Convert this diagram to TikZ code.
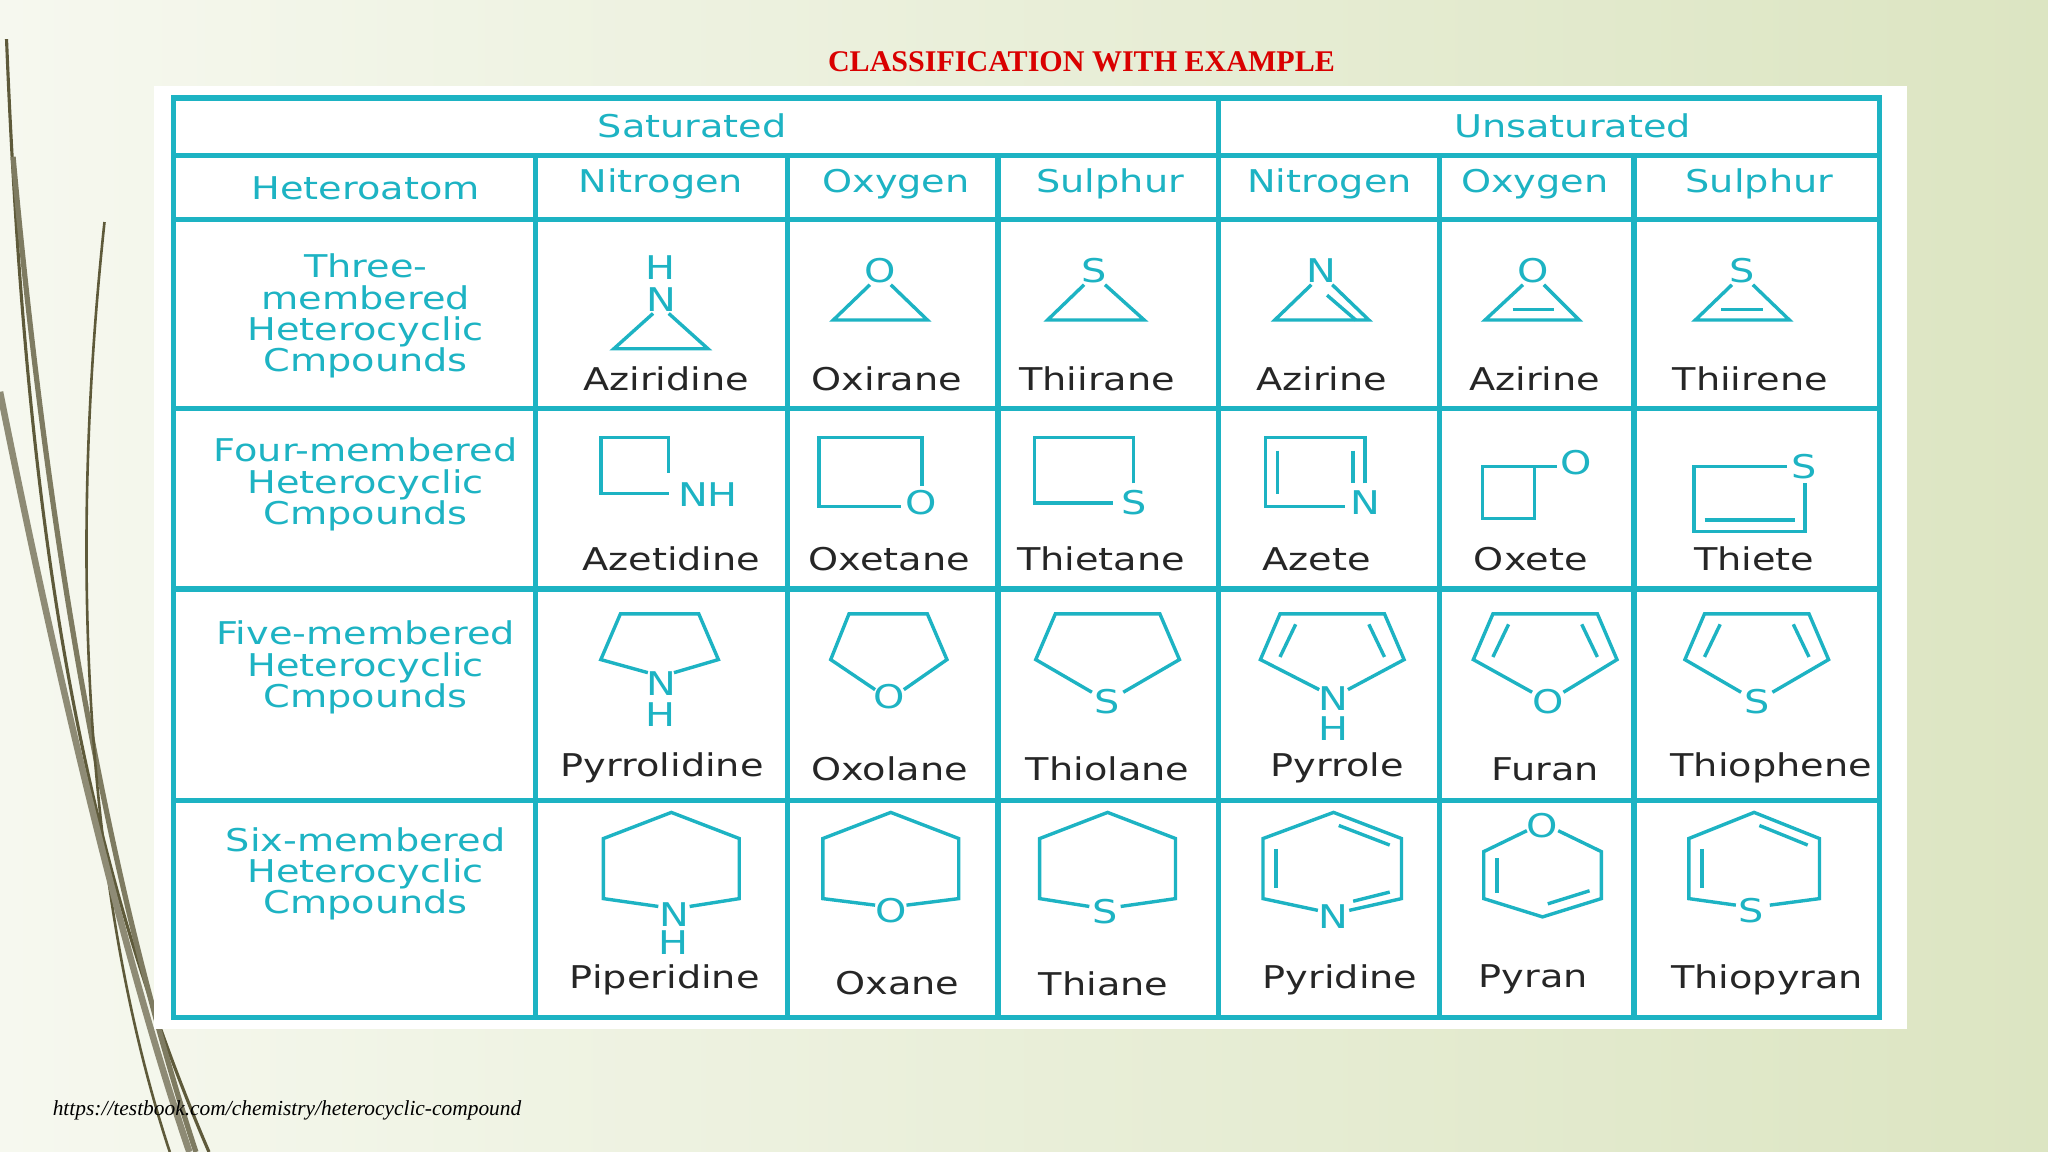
\documentclass[tikz,border=0pt]{standalone}
\usepackage{fontspec}
\setmainfont{DejaVu Sans}
\newfontfamily\wide[FakeStretch=1.22]{DejaVu Sans}
\newfontfamily\serifT{Liberation Serif}
\begin{document}
\begin{tikzpicture}[x=0.5pt,y=-0.5pt]
\definecolor{teal}{HTML}{1DB3C3}
\definecolor{olive}{HTML}{5E5A3A}
\definecolor{bgl}{HTML}{F6F8EF}
\definecolor{bgr}{HTML}{DCE5C2}
\tikzset{bond/.style={teal,line width=1.3pt},
 atom/.style={text=teal,font=\wide\fontsize{12.5}{12.5}\selectfont,inner sep=0pt},
 cname/.style={text=black!85,font=\wide\fontsize{12}{12}\selectfont,inner sep=0pt},
 hdr/.style={text=teal,font=\wide\fontsize{12}{12}\selectfont,inner sep=0pt},
 rowlab/.style={text=teal,font=\wide\fontsize{12}{12}\selectfont,align=center,inner sep=0pt,anchor=north}}
\useasboundingbox (0,0) rectangle (1568,882);
\shade[left color=bgl,right color=bgr] (0,0) rectangle (1568,882);
% decorative stripes
\draw[olive,line width=1.2pt] (5,30) .. controls (20,400) and (60,650) .. (160,882);
\draw[olive!80,line width=2pt] (10,120) .. controls (40,450) and (90,700) .. (150,882);
\draw[olive,line width=1pt] (80,170) .. controls (50,450) and (70,700) .. (130,882);
\draw[olive!70,line width=2.5pt] (0,300) .. controls (50,550) and (100,750) .. (145,882);
\fill[white] (118,66) rectangle (1460,788);
% title
\node[text=red!85!black,font=\serifT\bfseries\fontsize{11.5}{11.5}\selectfont] (title) at (828,47) {CLASSIFICATION WITH EXAMPLE};
\node[anchor=west,inner sep=0pt,font=\serifT\itshape\fontsize{8.2}{8.2}\selectfont] (url) at (40,850) {https://testbook.com/chemistry/heterocyclic-compound};
% grid
\draw[teal,line width=2pt] (133,75) rectangle (1439,779);
\foreach \y in {119,168,313,451,613} \draw[teal,line width=2pt] (133,\y) -- (1439,\y);
\draw[teal,line width=2pt] (933,75) -- (933,779);
\foreach \x in {410,603,764,1102,1251} \draw[teal,line width=2pt] (\x,119) -- (\x,779);
% headers
\node[hdr] (sat) at (530,96) {Saturated};
\node[hdr] (unsat) at (1204,96) {Unsaturated};
\node[hdr] (het) at (280,144) {Heteroatom};
\foreach \x/\t [count=\i] in {506/Nitrogen,686/Oxygen,850/Sulphur,1018/Nitrogen,1175/Oxygen,1347/Sulphur}
  \node[hdr] (h\i) at (\x,141) {\t};
\node[rowlab] (r1) at (280,194) {Three-\\membered\\Heterocyclic\\Cmpounds};
\node[rowlab] (r2) at (280,335) {Four-membered\\Heterocyclic\\Cmpounds};
\node[rowlab] (r3) at (280,475) {Five-membered\\Heterocyclic\\Cmpounds};
\node[rowlab] (r4) at (280,633) {Six-membered\\Heterocyclic\\Cmpounds};
% names
\foreach \x/\y/\t [count=\i] in {510/290/Aziridine,679/290/Oxirane,840/290/Thiirane,1012/290/Azirine,1175/290/Azirine,1340/290/Thiirene,
 514/428/Azetidine,681/428/Oxetane,843/428/Thietane,1008/428/Azete,1172/428/Oxete,1343/428/Thiete,
 507/588/Pyrrolidine,681/589/Oxolane,848/589/Thiolane,1024/588/Pyrrole,1183/589/Furan,1356/588/Thiophene,
 509/750/Piperidine,687/753/Oxane,845/753/Thiane,1026/750/Pyridine,1174/750/Pyran,1353/750/Thiopyran}
  \node[cname] (n\i) at (\x,\y) {\t};
% ---- three-membered
\node[atom] (a1h) at (506,205) {H}; \node[atom] (a1n) at (506,229) {N};
\draw[bond] (500,240) -- (470,267) -- (542,267) -- (512,240);
\node[atom] (a2) at (674,207) {O};
\draw[bond] (666,218) -- (638,245) -- (710,245) -- (682,218);
\node[atom] (a3) at (838,207) {S};
\draw[bond] (830,218) -- (802,245) -- (876,245) -- (846,218);
\node[atom] (a4) at (1012,207) {N};
\draw[bond] (1004,218) -- (976,245) -- (1048,245) -- (1020,218);
\draw[bond] (1016,226) -- (1038,245);
\node[atom] (a5) at (1174,207) {O};
\draw[bond] (1166,218) -- (1137,245) -- (1209,245) -- (1182,218);
\draw[bond] (1158,237) -- (1190,237);
\node[atom] (a6) at (1334,207) {S};
\draw[bond] (1326,218) -- (1298,245) -- (1370,245) -- (1342,218);
\draw[bond] (1318,237) -- (1350,237);
% ---- four-membered
\draw[bond] (512,362) -- (512,335) -- (460,335) -- (460,378) -- (512,378);
\node[atom] (b1) at (542,379) {NH};
\draw[bond] (706,372) -- (706,335) -- (627,335) -- (627,388) -- (690,388);
\node[atom] (b2) at (705,385) {O};
\draw[bond] (868,370) -- (868,335) -- (792,335) -- (792,385) -- (852,385);
\node[atom] (b3) at (868,385) {S};
\draw[bond] (1045,370) -- (1045,335) -- (969,335) -- (969,388) -- (1030,388);
\draw[bond] (978,345) -- (978,378); \draw[bond] (1036,345) -- (1036,370);
\node[atom] (b4) at (1045,385) {N};
\draw[bond] (1192,357) -- (1135,357) -- (1135,397) -- (1175,397) -- (1175,357);
\node[atom] (b5) at (1207,354) {O};
\draw[bond] (1368,357) -- (1297,357) -- (1297,407) -- (1382,407) -- (1382,370);
\draw[bond] (1305,398) -- (1374,398);
\node[atom] (b6) at (1381,357) {S};
% ---- five-membered
\draw[bond] (496,515) -- (460,505) -- (475,470) -- (535,470) -- (550,505) -- (516,515);
\node[atom] (c1n) at (506,523) {N}; \node[atom] (c1h) at (506,547) {H};
\draw[bond] (670,528) -- (636,505) -- (650,470) -- (710,470) -- (725,505) -- (692,528);
\node[atom] (c2) at (681,533) {O};
\draw[bond] (836,530) -- (793,505) -- (808,470) -- (888,470) -- (903,505) -- (860,530);
\node[atom] (c3) at (848,537) {S};
\draw[bond] (1010,528) -- (965,505) -- (980,470) -- (1060,470) -- (1075,505) -- (1032,528);
\draw[bond] (992,478) -- (980,503); \draw[bond] (1048,478) -- (1060,503);
\node[atom] (c4n) at (1021,535) {N}; \node[atom] (c4h) at (1021,558) {H};
\draw[bond] (1173,530) -- (1128,505) -- (1143,470) -- (1223,470) -- (1238,505) -- (1197,530);
\draw[bond] (1155,478) -- (1143,503); \draw[bond] (1211,478) -- (1223,503);
\node[atom] (c5) at (1185,537) {O};
\draw[bond] (1333,530) -- (1290,505) -- (1305,470) -- (1385,470) -- (1400,505) -- (1357,530);
\draw[bond] (1317,478) -- (1305,503); \draw[bond] (1373,478) -- (1385,503);
\node[atom] (c6) at (1345,537) {S};
% ---- six-membered
\draw[bond] (504,694) -- (462,688) -- (462,642) -- (514,622) -- (566,642) -- (566,688) -- (528,694);
\node[atom] (d1n) at (516,700) {N}; \node[atom] (d1h) at (516,722) {H};
\draw[bond] (670,693) -- (630,688) -- (630,642) -- (682,622) -- (734,642) -- (734,688) -- (694,693);
\node[atom] (d2) at (682,697) {O};
\draw[bond] (834,694) -- (796,688) -- (796,642) -- (848,622) -- (900,642) -- (900,688) -- (858,694);
\node[atom] (d3) at (846,698) {S};
\draw[bond] (1009,697) -- (967,688) -- (967,642) -- (1021,622) -- (1073,642) -- (1073,688) -- (1033,697);
\draw[bond] (977,650) -- (977,680); \draw[bond] (1025,632) -- (1064,647); \draw[bond] (1064,683) -- (1036,690);
\node[atom] (d4) at (1021,702) {N};
\draw[bond] (1169,636) -- (1136,652) -- (1136,688) -- (1181,702) -- (1226,688) -- (1226,652) -- (1193,636);
\draw[bond] (1146,657) -- (1146,684); \draw[bond] (1185,692) -- (1217,682);
\node[atom] (d5) at (1181,632) {O};
\draw[bond] (1329,693) -- (1293,688) -- (1293,642) -- (1343,622) -- (1393,642) -- (1393,688) -- (1355,693);
\draw[bond] (1303,650) -- (1303,680); \draw[bond] (1347,632) -- (1384,647);
\node[atom] (d6) at (1341,697) {S};
\end{tikzpicture}
\end{document}
